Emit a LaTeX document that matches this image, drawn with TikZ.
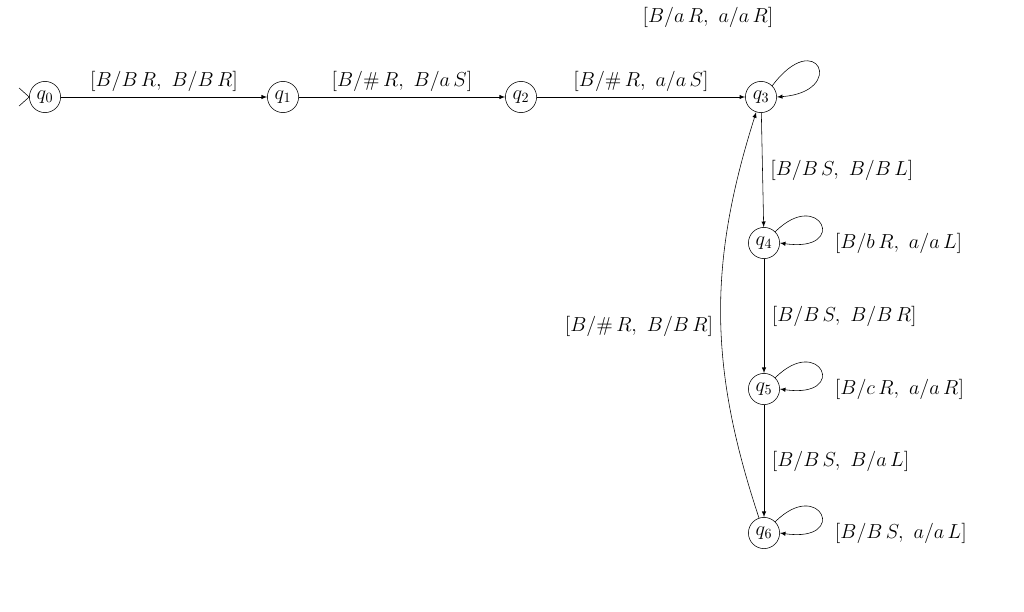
\documentclass[tikz,border=0pt]{standalone}
\usepackage{amsmath,amssymb}
\usetikzlibrary{arrows,positioning}

\begin{document}
\begin{tikzpicture}[
    x=0.025cm, y=-0.025cm,
    state/.style={circle, draw, minimum size=0.78cm, inner sep=0pt, font=\Large},
    lbl/.style={font=\Large},
    line/.style={draw, -latex, thin},
    self/.style={draw, -latex, thin}
]
\useasboundingbox (0,0) rectangle (1024,611);

% States
\node [state] (q0) at (45,97) {$q_0$};
\node [state] (q1) at (283,97) {$q_1$};
\node [state] (q2) at (521,97) {$q_2$};
\node [state] (q3) at (761,97) {$q_3$};
\node [state] (q4) at (764,243) {$q_4$};
\node [state] (q5) at (764,389) {$q_5$};
\node [state] (q6) at (764,533) {$q_6$};

% Start marker
\draw [thin] (q0.west) -- ++(-10,-9);
\draw [thin] (q0.west) -- ++(-10,9);

% Main path
\path [line] (q0) -- node[lbl, above] {$[B/B\,R,\ B/B\,R]$} (q1);
\path [line] (q1) -- node[lbl, above] {$[B/\#\,R,\ B/a\,S]$} (q2);
\path [line] (q2) -- node[lbl, above] {$[B/\#\,R,\ a/a\,S]$} (q3);
\path [line] (q3) -- node[lbl, right=2pt] {$[B/B\,S,\ B/B\,L]$} (q4);
\path [line] (q4) -- node[lbl, right=2pt] {$[B/B\,S,\ B/B\,R]$} (q5);
\path [line] (q5) -- node[lbl, right=2pt] {$[B/B\,S,\ B/a\,L]$} (q6);
\path [line] (q6) to[bend left=18] node[lbl, left=2pt, pos=0.47] {$[B/\#\,R,\ B/B\,R]$} (q3);

% Loops
\path [self] (q3.north east) .. controls +(45,-60) and +(70,-5) .. (q3.east);
\node [lbl] (l3) at (708,17) {$[B/a\,R,\ a/a\,R]$};
\path [self] (q4.north east) .. controls +(45,-45) and +(70,10) .. (q4.east);
\node [lbl, right] (l4) at (830,243) {$[B/b\,R,\ a/a\,L]$};
\path [self] (q5.north east) .. controls +(45,-45) and +(70,10) .. (q5.east);
\node [lbl, right] (l5) at (830,389) {$[B/c\,R,\ a/a\,R]$};
\path [self] (q6.north east) .. controls +(45,-45) and +(70,10) .. (q6.east);
\node [lbl, right] (l6) at (830,533) {$[B/B\,S,\ a/a\,L]$};

\end{tikzpicture}
\end{document}
